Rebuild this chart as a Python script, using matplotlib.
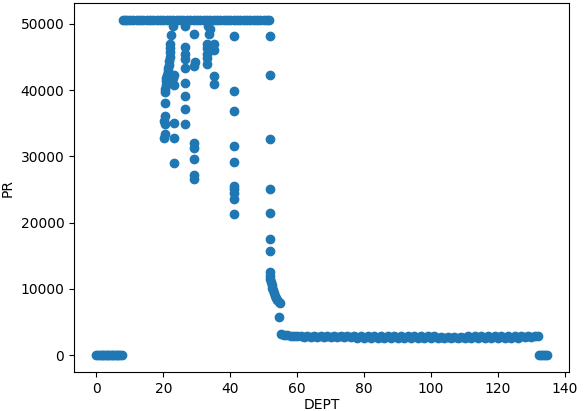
import matplotlib
matplotlib.use('Agg')
import matplotlib.pyplot as plt

# shallow section, PR reads zero
shallow_dept = [0.0, 0.5, 1.0, 1.5, 2.0, 2.5, 3.0, 3.5, 4.0, 4.5, 5.0, 5.5, 6.0, 6.5, 7.0, 7.6]
shallow_pr = [0] * len(shallow_dept)

# saturated plateau
plateau_dept = [7.8, 8.5, 9, 10, 11, 12, 13, 14, 15, 16, 17, 18, 19, 20, 21, 22, 23, 24, 25,
                26, 27, 28, 29, 30, 31, 32, 33, 34, 35, 36, 37, 38, 39, 40, 41, 42, 43, 44,
                45, 46, 47, 48, 49, 50, 51, 51.5]
plateau_pr = [50600] * len(plateau_dept)

# dips below the plateau
dip_dept = [22.3, 22.0, 22.1, 21.9, 22.0, 21.8, 21.7, 21.5, 21.3, 21.1, 20.9, 20.8, 20.7,
            20.6, 20.5, 20.5, 20.4, 20.3, 20.4, 20.4, 20.3,
            22.9, 23.0, 23.1, 23.0, 23.1, 23.2, 23.2, 23.3,
            26.4, 26.4, 26.4, 26.4, 26.4, 26.4, 26.4, 26.4, 26.4, 26.4,
            29.1, 29.4, 29.1, 29.1, 29.1, 29.1, 29.1, 29.1,
            33.3, 33.5, 34.0, 32.9, 32.9, 32.9, 32.9, 32.9, 35.1, 35.1, 35.1, 35.1,
            41.1, 41.1, 41.1, 41.1, 41.1, 41.1, 41.1, 41.1, 41.1, 41.1,
            51.9, 51.9, 51.9, 51.9, 51.9, 51.9, 51.9]
dip_pr = [48300, 47000, 46300, 45700, 45000, 44400, 43800, 43300, 42800, 42300, 41800, 41300,
          40700, 40200, 39700, 38000, 36100, 35300, 34900, 33300, 32700,
          50200, 49700, 42300, 41800, 40800, 35000, 32800, 29000,
          50200, 49700, 46500, 45500, 44700, 43300, 41000, 39100, 37100, 34900,
          48500, 44200, 43700, 32000, 31300, 29600, 27200, 26600,
          49700, 48500, 49200, 47000, 46300, 45500, 44800, 44000, 47000, 46000, 42100, 40900,
          48100, 39800, 36800, 31500, 29150, 25500, 25000, 24500, 23500, 21250,
          48100, 42200, 32600, 25100, 21500, 17600, 15650]

# drop off the plateau
drop_dept = [51.8, 51.9, 52.0, 52.2, 52.4, 52.6, 52.8, 53.0, 53.3, 53.6, 54.0, 54.4, 54.7, 54.5]
drop_pr = [12500, 12000, 11500, 11000, 10600, 10200, 9800, 9400, 9000, 8600, 8300, 8100, 7900, 5760]

# low, flat section
base_dept = list(range(55, 133))
base_pr = [3250, 3050, 2980, 2900, 2950, 2850, 2900, 2780, 2880, 2750,
           2870, 2720, 2860, 2700, 2870, 2700, 2860, 2680, 2870, 2700,
           2860, 2680, 2850, 2650, 2860, 2640, 2850, 2620, 2860, 2600,
           2850, 2560, 2850, 2550, 2840, 2580, 2850, 2560, 2840, 2570,
           2850, 2560, 2840, 2580, 2850, 2560, 2840, 2600, 2760, 2560,
           2750, 2540, 2800, 2550, 2820, 2540, 2830, 2560, 2830, 2550,
           2840, 2540, 2840, 2580, 2850, 2570, 2850, 2600, 2860, 2620,
           2860, 2640, 2870, 2680, 2870, 2700, 2880, 2850]

# deepest section, PR back to zero
deep_dept = [132.4, 133.0, 133.5, 134.0, 134.5]
deep_pr = [0] * len(deep_dept)

dept = shallow_dept + plateau_dept + dip_dept + drop_dept + base_dept + deep_dept
pr = shallow_pr + plateau_pr + dip_pr + drop_pr + base_pr + deep_pr

fig = plt.figure(figsize=(5.87, 4.11), dpi=100)
ax = fig.add_axes([74 / 587, 39 / 411, 495 / 587, 369 / 411])
ax.scatter(dept, pr)
ax.set_xlabel('DEPT', labelpad=1.5)
ax.set_ylabel('PR')
fig.savefig('out.png', dpi=100)
